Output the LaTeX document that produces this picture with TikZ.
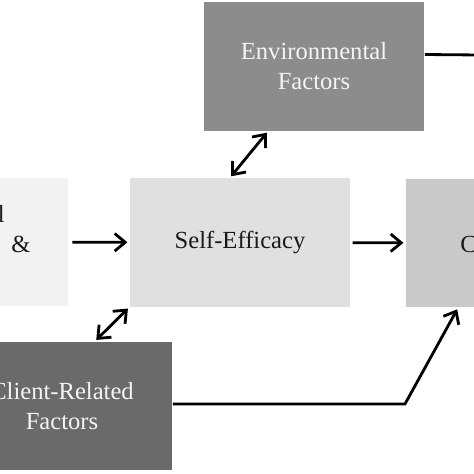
\documentclass[tikz,border=0pt]{standalone}
\usepackage{fontspec}
\setmainfont{Liberation Serif}
\usetikzlibrary{arrows.meta,positioning}

\definecolor{lightbox}{HTML}{F2F2F2}
\definecolor{selfbox}{HTML}{E0E0E0}
\definecolor{outbox}{HTML}{C9C9C9}
\definecolor{envbox}{HTML}{8C8C8C}
\definecolor{clientbox}{HTML}{6A6A6A}
\definecolor{paletext}{HTML}{F4F4F4}
\definecolor{ink}{HTML}{1A1A1A}

\tikzset{
  box/.style={rectangle,inner sep=0pt,minimum width=4.42cm,minimum height=2.58cm,
    align=center,text=ink,font=\fontsize{14}{17}\selectfont},
  txt/.style={inner sep=0pt,text=ink,font=\fontsize{14}{17}\selectfont},
  link/.style={line width=1.6pt,-{Straight Barb[length=6pt,width=10pt]},shorten >=1pt},
  both/.style={line width=1.6pt,{Straight Barb[length=6pt,width=10pt]}-{Straight Barb[length=6pt,width=10pt]},shorten >=1pt,shorten <=1pt}
}

\begin{document}
\begin{tikzpicture}[x=0.02cm,y=-0.02cm]
  \useasboundingbox (0,0) rectangle (474,474);
  \clip (0,0) rectangle (474,474);

  % Kaesten
  \node[box,fill=lightbox] (pers) at (-42,242) {};
  \node[box,fill=selfbox] (self) at (240,242.5) {Self-Efficacy};
  \node[box,fill=envbox,text=paletext] (env) at (314,66.5) {Environmental\\Factors};
  \node[box,fill=outbox] (out) at (516,243) {};
  \node[box,fill=clientbox,text=paletext] (client) at (62,406) {Client-Related\\Factors};

  % angeschnittene Texte
  \node[txt,anchor=base east] (persA) at (5,222) {l};
  \node[txt,anchor=base] (persB) at (21,252) {\&};
  \node[txt,anchor=base west] (outA) at (460,252) {Co};

  % Pfeile
  \coordinate (envout) at (480,55);
  \coordinate (bend) at (405,404);
  \draw[line width=1.6pt] ([yshift=0.24cm]env.east) -- (envout);
  \draw[link,shorten <=2pt] (pers) -- (self);
  \draw[link,shorten <=1pt] (self) -- (out);
  \draw[both] ([xshift=-0.2cm]self.north) -- ([xshift=-0.92cm]env.south);
  \draw[both] (self.south west) -- ([xshift=0.66cm]client.north);
  \draw[link,line join=miter] (client.east |- bend) -- (bend) -- ([xshift=-1.16cm]out.south);
\end{tikzpicture}
\end{document}
